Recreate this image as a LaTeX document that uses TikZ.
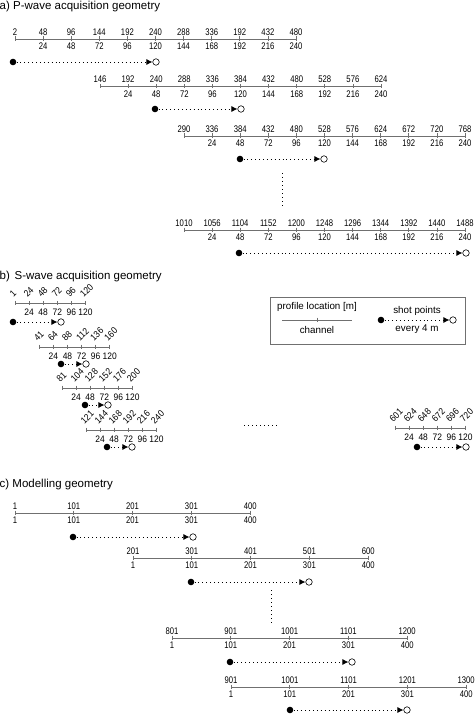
\documentclass[tikz,border=0pt]{standalone}
\usepackage{fontspec}
\setmainfont{Liberation Sans}
\newfontfamily\numfont[FakeStretch=0.8]{Liberation Sans}
\newfontfamily\numfontb[FakeStretch=0.9]{Liberation Sans}
\usetikzlibrary{arrows.meta}
\definecolor{axisgray}{HTML}{707070}
\tikzset{
  axisline/.style={draw=axisgray, line width=0.9pt},
  tickmark/.style={draw=axisgray, line width=0.8pt},
  toplab/.style={anchor=base, inner sep=0pt, font=\numfont\fontsize{9.6}{10}\selectfont},
  botlab/.style={anchor=base, inner sep=0pt, font=\numfont\fontsize{9.6}{10}\selectfont},
  botlabb/.style={anchor=base, inner sep=0pt, font=\numfontb\fontsize{9.4}{10}\selectfont},
  rotlab/.style={anchor=south west, rotate=45, inner sep=0pt, font=\numfontb\fontsize{9.4}{10}\selectfont},
  titlelab/.style={anchor=base west, inner sep=0pt, font=\fontsize{11.5}{13}\selectfont},
  legendlab/.style={anchor=center, inner sep=0pt, font=\fontsize{9.8}{11}\selectfont},
  shotdot/.style={circle, fill=black, inner sep=0pt, minimum size=6.6pt},
  shotend/.style={circle, draw=black, line width=0.6pt, fill=white, inner sep=0pt, minimum size=6.5pt},
  shotline/.style={line width=0.9pt, dash pattern=on 0.9pt off 3pt, -{Latex[length=6pt,width=6pt]}},
  dotline/.style={line width=1pt, dash pattern=on 1pt off 3pt},
  legendbox/.style={draw=axisgray, line width=0.8pt, inner sep=0pt},
}
% x0, y, dx, last index
\newcommand\geomaxis[4]{%
  \draw[axisline] (#1,#2) -- ({#1+#4*#3},#2);
  \foreach \k in {0,...,#4} \draw[tickmark] ({#1+\k*#3},{#2-2.5}) -- ({#1+\k*#3},{#2+2});
}
% name, x0, y, dx, list
\newcommand\geomtop[5]{%
  \foreach \lab [count=\k from 0] in {#5} \node[toplab] (#1t\k) at ({#2+\k*#4},{#3-3.5}) {\lab};
}
% name, x0, y, dx, start index, baseline offset, list
\newcommand\geombot[7]{%
  \foreach \lab [count=\k from #5] in {#7} \node[botlab] (#1b\k) at ({#2+\k*#4},{#3+#6}) {\lab};
}
% name, x0, y, dx, list  (S-wave rows: bottom)
\newcommand\geombotb[5]{%
  \foreach \lab [count=\k from 1] in {#5} \node[botlabb] (#1b\k) at ({#2+\k*#4},{#3+12}) {\lab};
}
% name, x0, y, dx, list
\newcommand\geomrot[5]{%
  \foreach \lab [count=\k from 0] in {#5} \node[rotlab] (#1r\k) at ({#2+\k*#4-1.5},{#3-5.3}) {\lab};
}
\begin{document}
\begin{tikzpicture}[x=1pt, y=-1pt]
\useasboundingbox (0,0) rectangle (474,714);

% ---------------- a) P-wave
\node[titlelab] (ta) at (-0.5,10) {a) P-wave acquisition geometry};

\geomaxis{15}{39}{28.1}{10}
\geomtop{aa}{15}{39}{28.1}{2,48,96,144,192,240,288,336,192,432,480}
\geombot{aa}{15}{39}{28.1}{1}{10.6}{24,48,72,96,120,144,168,192,216,240}
\node[shotdot] (as1) at (13,62) {};
\node[shotend] (ae1) at (156,62) {};
\draw[shotline] (as1) -- (ae1);

\geomaxis{100}{86.5}{28.1}{10}
\geomtop{ab}{100}{86.5}{28.1}{146,192,240,288,336,384,432,480,528,576,624}
\geombot{ab}{100}{86.5}{28.1}{1}{10.6}{24,48,72,96,120,144,168,192,216,240}
\node[shotdot] (as2) at (155,109) {};
\node[shotend] (ae2) at (241,109) {};
\draw[shotline] (as2) -- (ae2);

\geomaxis{184}{136}{28.1}{10}
\geomtop{ac}{184}{136}{28.1}{290,336,384,432,480,528,576,624,672,720,768}
\geombot{ac}{184}{136}{28.1}{1}{10.6}{24,48,72,96,120,144,168,192,216,240}
\node[shotdot] (as3) at (240,159) {};
\node[shotend] (ae3) at (324,159) {};
\draw[shotline] (as3) -- (ae3);

\coordinate (adot1) at (282,173);
\coordinate (adot2) at (282,207);
\draw[dotline] (adot1) -- (adot2);

\geomaxis{184}{230}{28.1}{10}
\geomtop{ad}{184}{230}{28.1}{1010,1056,1104,1152,1200,1248,1296,1344,1392,1440,1488}
\geombot{ad}{184}{230}{28.1}{1}{10.6}{24,48,72,96,120,144,168,192,216,240}
\node[shotdot] (as4) at (239,253) {};
\node[shotend] (ae4) at (466,253) {};
\draw[shotline] (as4) -- (ae4);

% ---------------- b) S-wave
\node[titlelab] (tb) at (-0.5,279) {b)\hspace{1.5pt} S-wave acquisition geometry};

\geomaxis{15}{303.3}{14.1}{5}
\geomrot{ba}{15}{303.3}{14.1}{1,24,48,72,96,120}
\geombotb{ba}{15}{303.3}{14.1}{24,48,72,96,120}
\node[shotdot] (bs1) at (13,322) {};
\node[shotend] (be1) at (61,322) {};
\draw[shotline] (bs1) -- (be1);

\geomaxis{39.3}{347}{14.1}{5}
\geomrot{bb}{39.3}{347}{14.1}{41,64,88,112,136,160}
\geombotb{bb}{39.3}{347}{14.1}{24,48,72,96,120}
\node[shotdot] (bs2) at (61,364) {};
\node[shotend] (be2) at (86,364) {};
\draw[shotline] (bs2) -- (be2);

\geomaxis{62}{388}{14.1}{5}
\geomrot{bc}{62}{388}{14.1}{81,104,128,152,176,200}
\geombotb{bc}{62}{388}{14.1}{24,48,72,96,120}
\node[shotdot] (bs3) at (85,405) {};
\node[shotend] (be3) at (108,405) {};
\draw[shotline] (bs3) -- (be3);

\geomaxis{86}{430}{14.1}{5}
\geomrot{bd}{86}{430}{14.1}{121,144,168,192,216,240}
\geombotb{bd}{86}{430}{14.1}{24,48,72,96,120}
\node[shotdot] (bs4) at (107,447) {};
\node[shotend] (be4) at (132,447) {};
\draw[shotline] (bs4) -- (be4);

\coordinate (bdot1) at (244,425);
\coordinate (bdot2) at (277,425);
\draw[dotline] (bdot1) -- (bdot2);

\geomaxis{395}{428}{14.1}{5}
\geomrot{be}{395}{428}{14.1}{601,624,648,672,696,720}
\geombotb{be}{395}{428}{14.1}{24,48,72,96,120}
\node[shotdot] (bs5) at (417,447) {};
\node[shotend] (be5) at (466,447) {};
\draw[shotline] (bs5) -- (be5);

% legend
\node[legendbox, minimum width=195pt, minimum height=47pt] (legend) at (367.5,320.5) {};
\node[legendlab] (lprof) at (317,307) {profile location [m]};
\node[legendlab] (lchan) at (317,330) {channel};
\coordinate (lla) at (282,320);
\coordinate (llb) at (352,320);
\draw[axisline] (lla) -- (llb);
\draw[tickmark] (317,317.5) -- (317,322);
\node[legendlab] (lshot) at (417,311) {shot points};
\node[legendlab] (levery) at (417,329) {every 4 m};
\node[shotdot] (ls) at (381,320) {};
\node[shotend] (le) at (453,320) {};
\draw[shotline] (ls) -- (le);

% ---------------- c) Modelling
\node[titlelab] (tc) at (-0.5,487) {c) Modelling geometry};

\geomaxis{15}{513}{58.8}{4}
\geomtop{ca}{15}{513}{58.8}{1,101,201,301,400}
\geombot{ca}{15}{513}{58.8}{0}{10.5}{1,101,201,301,400}
\node[shotdot] (cs1) at (73,537) {};
\node[shotend] (ce1) at (193,537) {};
\draw[shotline] (cs1) -- (ce1);

\geomaxis{133}{558}{58.8}{4}
\geomtop{cb}{133}{558}{58.8}{201,301,401,501,600}
\geombot{cb}{133}{558}{58.8}{0}{10.5}{1,101,201,301,400}
\node[shotdot] (cs2) at (191,582) {};
\node[shotend] (ce2) at (309,582) {};
\draw[shotline] (cs2) -- (ce2);

\coordinate (cdot1) at (271,590);
\coordinate (cdot2) at (271,625);
\draw[dotline] (cdot1) -- (cdot2);

\geomaxis{172}{638}{58.8}{4}
\geomtop{cc}{172}{638}{58.8}{801,901,1001,1101,1200}
\geombot{cc}{172}{638}{58.8}{0}{10.5}{1,101,201,301,400}
\node[shotdot] (cs3) at (230,662) {};
\node[shotend] (ce3) at (352,662) {};
\draw[shotline] (cs3) -- (ce3);

\geomaxis{231}{687}{58.8}{4}
\geomtop{cd}{231}{687}{58.8}{901,1001,1101,1201,1300}
\geombot{cd}{231}{687}{58.8}{0}{10.5}{1,101,201,301,400}
\node[shotdot] (cs4) at (290,710) {};
\node[shotend] (ce4) at (407,710) {};
\draw[shotline] (cs4) -- (ce4);
\end{tikzpicture}
\end{document}
